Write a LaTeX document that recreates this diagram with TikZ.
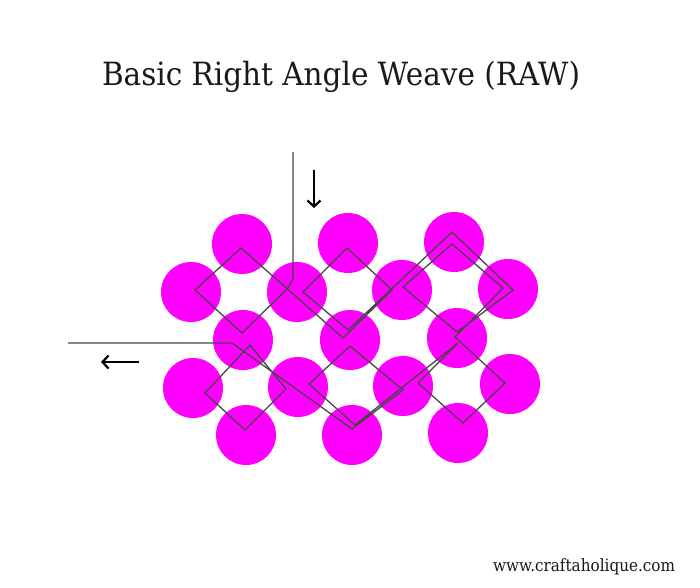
\documentclass[tikz,border=0pt]{standalone}
\usepackage{fontspec}
\setmainfont{DejaVu Serif}
\usetikzlibrary{arrows.meta}
\definecolor{bead}{HTML}{FF00FF}
\definecolor{thread}{HTML}{464646}
\begin{document}
\begin{tikzpicture}[x=1pt,y=-1pt,
  beadnode/.style={circle,fill=bead,minimum size=60pt,inner sep=0pt,draw=none},
  threadline/.style={draw=thread,line width=1.3pt,line join=miter},
  bigarrow/.style={draw=black,line width=2.2pt,-{Straight Barb[length=6pt,width=13pt]}},
  titletext/.style={anchor=base,inner sep=0pt,text=black!90}]
\useasboundingbox (0,0) rectangle (700,587);
% beads
\node[beadnode] (b11) at (242,244) {};
\node[beadnode] (b12) at (348,243) {};
\node[beadnode] (b13) at (454,242) {};
\node[beadnode] (b21) at (191,292) {};
\node[beadnode] (b22) at (297,292) {};
\node[beadnode] (b23) at (402,290) {};
\node[beadnode] (b24) at (508,289) {};
\node[beadnode] (b31) at (243,340) {};
\node[beadnode] (b32) at (350,340) {};
\node[beadnode] (b33) at (457,338) {};
\node[beadnode] (b41) at (193,388) {};
\node[beadnode] (b42) at (298,387) {};
\node[beadnode] (b43) at (403,386) {};
\node[beadnode] (b44) at (510,384) {};
\node[beadnode] (b51) at (246,435) {};
\node[beadnode] (b52) at (352,435) {};
\node[beadnode] (b53) at (458,433) {};
% thread points
\coordinate (s0) at (293,152);
\coordinate (s1) at (293,279);
\coordinate (aR) at (287,289);
\coordinate (aB) at (242,333);
\coordinate (aL) at (195,290);
\coordinate (aT) at (241,248);
\coordinate (q1) at (343,338);
\coordinate (bR) at (392,290);
\coordinate (bT) at (347,248);
\coordinate (bL) at (303,292);
\coordinate (bB) at (348,330);
\coordinate (cTo) at (452,232);
\coordinate (cRo) at (513,290);
\coordinate (cBo) at (457,332);
\coordinate (cL) at (403,287);
\coordinate (cTi) at (452,244);
\coordinate (cRi) at (503,288);
\coordinate (fT) at (455,337);
\coordinate (fR) at (505,383);
\coordinate (fB) at (463,423);
\coordinate (fL) at (418,383);
\coordinate (fT2) at (458,343);
\coordinate (eB) at (355,425);
\coordinate (eL) at (309,384);
\coordinate (eT) at (350,346);
\coordinate (eR) at (403,390);
\coordinate (eB2) at (352,429);
\coordinate (x1) at (232,343);
\coordinate (x0) at (68,343);
\coordinate (dT) at (250,345);
\coordinate (dL) at (205,393);
\coordinate (dB) at (245,430);
\coordinate (dR) at (286,389);
% thread
\draw[threadline] (s0) -- (s1) -- (aR) -- (aB) -- (aL) -- (aT) -- (q1)
  -- (bR) -- (bT) -- (bL) -- (bB) -- (cTo) -- (cRo) -- (cBo) -- (cL)
  -- (cTi) -- (cRi) -- (fT) -- (fR) -- (fB) -- (fL) -- (fT2) -- (eB)
  -- (eL) -- (eT) -- (eR) -- (eB2) -- (x1) -- (x0);
\draw[threadline] (dT) -- (dL) -- (dB) -- (dR) -- cycle;
% arrows
\coordinate (da0) at (314,170);
\coordinate (da1) at (314,208);
\draw[bigarrow] (da0) -- (da1);
\coordinate (la0) at (139,362);
\coordinate (la1) at (101,362);
\draw[bigarrow] (la0) -- (la1);
% texts
\node[titletext] (title) at (341,85) {\resizebox{478pt}{\height}{\fontsize{32}{40}\selectfont Basic Right Angle Weave (RAW)}};
\node[titletext] (url) at (584,571) {\resizebox{182pt}{\height}{\fontsize{17}{20}\selectfont www.craftaholique.com}};
\end{tikzpicture}
\end{document}
